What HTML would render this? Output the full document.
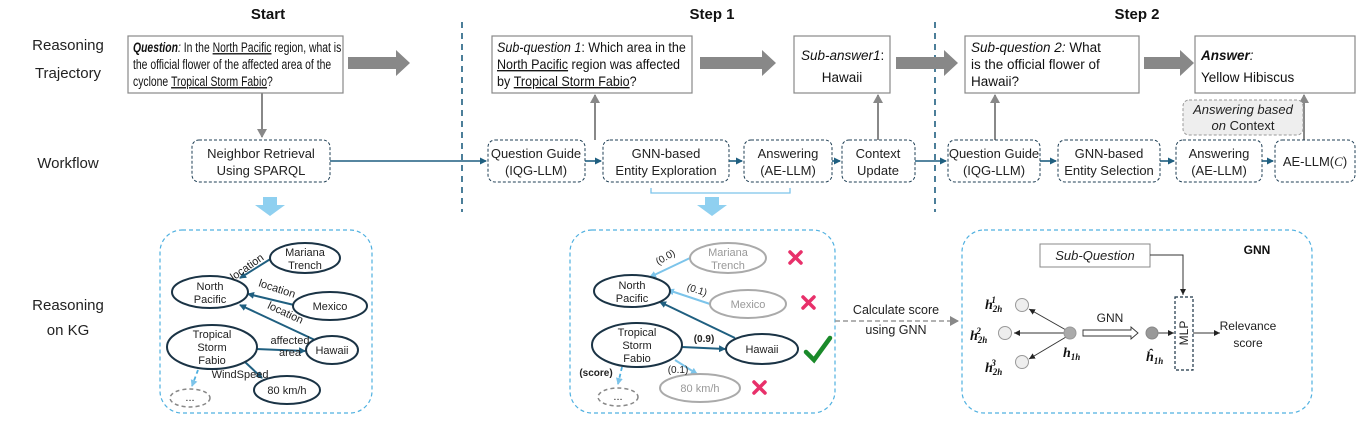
<!DOCTYPE html>
<html><head><meta charset="utf-8"><style>
body{margin:0;background:#fff}
svg{display:block;font-family:"Liberation Sans",Arial,sans-serif}
</style></head><body>
<svg width="1365" height="448" viewBox="0 0 1365 448" xmlns="http://www.w3.org/2000/svg">
<defs>
<marker id="ab" markerWidth="8" markerHeight="8" refX="6" refY="4" orient="auto" markerUnits="userSpaceOnUse"><path d="M0,0.5 L7,4 L0,7.5z" fill="#1f5f80"/></marker>
<marker id="al" markerWidth="8" markerHeight="8" refX="6" refY="4" orient="auto" markerUnits="userSpaceOnUse"><path d="M0,0.5 L7,4 L0,7.5z" fill="#7cc4ea"/></marker>
<marker id="ag" markerWidth="10" markerHeight="10" refX="8" refY="5" orient="auto" markerUnits="userSpaceOnUse"><path d="M0,0 L9,5 L0,10z" fill="#888"/></marker>
<marker id="ak" markerWidth="7" markerHeight="7" refX="6" refY="3.5" orient="auto" markerUnits="userSpaceOnUse"><path d="M0,0.5 L6,3.5 L0,6.5z" fill="#222"/></marker>
</defs>
<g font-weight="bold" font-size="15" text-anchor="middle" fill="#111">
<text x="268" y="19">Start</text><text x="712" y="19">Step 1</text><text x="1137" y="19">Step 2</text></g>
<g font-size="15" fill="#222" text-anchor="middle">
<text x="68" y="50">Reasoning</text><text x="68" y="78">Trajectory</text>
<text x="68" y="168">Workflow</text>
<text x="68" y="310">Reasoning</text><text x="68" y="335">on KG</text></g>
<g stroke="#1f5f80" stroke-width="1.6" stroke-dasharray="6,5"><line x1="462" y1="22" x2="462" y2="212"/><line x1="935" y1="22" x2="935" y2="212"/></g>
<g fill="#fff" stroke="#888" stroke-width="1.2">
<rect x="128" y="36" width="215" height="57"/><rect x="492" y="36" width="200" height="57"/>
<rect x="794" y="36" width="96" height="57"/><rect x="965" y="36" width="174" height="57"/>
<rect x="1195" y="36" width="160" height="57"/></g>
<g font-size="13.5" fill="#111" transform="translate(133,0) scale(0.77,1)">
<text x="0" y="52"><tspan font-weight="bold" font-style="italic">Question</tspan><tspan font-style="italic">:</tspan> In the <tspan text-decoration="underline">North Pacific</tspan> region, what is</text>
<text x="0" y="69">the official flower of the affected area of the</text>
<text x="0" y="86">cyclone <tspan text-decoration="underline">Tropical Storm Fabio</tspan>?</text></g>
<g font-size="13.5" fill="#111" transform="translate(497,0) scale(0.93,1)">
<text x="0" y="52"><tspan font-style="italic">Sub-question 1</tspan>: Which area in the</text>
<text x="0" y="69"><tspan text-decoration="underline">North Pacific</tspan> region was affected</text>
<text x="0" y="86">by <tspan text-decoration="underline">Tropical Storm Fabio</tspan>?</text></g>
<g font-size="13.5" fill="#111">
<text x="801" y="60"><tspan font-style="italic">Sub-answer1</tspan>:</text>
<text x="842" y="82" text-anchor="middle">Hawaii</text>
<text x="971" y="52"><tspan font-style="italic">Sub-question 2:</tspan> What</text>
<text x="971" y="69">is the official flower of</text>
<text x="971" y="86">Hawaii?</text>
<text x="1201" y="60"><tspan font-weight="bold" font-style="italic">Answer</tspan><tspan font-style="italic">:</tspan></text>
<text x="1201" y="82">Yellow Hibiscus</text></g>
<g fill="#888">
<path d="M348,57 h48 v-7 l14,13 l-14,13 v-7 h-48z"/>
<path d="M700,57 h62 v-7 l14,13 l-14,13 v-7 h-62z"/>
<path d="M896,57 h48 v-7 l14,13 l-14,13 v-7 h-48z"/>
<path d="M1144,57 h36 v-7 l14,13 l-14,13 v-7 h-36z"/></g>
<g stroke="#888" stroke-width="2" marker-end="url(#ag)">
<line x1="262" y1="93" x2="262" y2="137"/><line x1="595" y1="140" x2="595" y2="95"/>
<line x1="878" y1="140" x2="878" y2="95"/><line x1="995" y1="140" x2="995" y2="95"/>
<line x1="1304" y1="140" x2="1304" y2="95"/></g>
<rect x="1183" y="100" width="120" height="35" rx="6" fill="#eee" stroke="#999" stroke-dasharray="3,2"/>
<text x="1243" y="114" font-size="13" text-anchor="middle" fill="#222" font-style="italic">Answering based</text>
<text x="1243" y="130" font-size="13" text-anchor="middle" fill="#222"><tspan font-style="italic">on</tspan> Context</text>
<g fill="#fff" stroke="#1f3f55" stroke-width="1" stroke-dasharray="3,2">
<rect x="192" y="140" width="138" height="42" rx="7"/>
<rect x="488" y="140" width="97" height="42" rx="7"/>
<rect x="603" y="140" width="126" height="42" rx="7"/>
<rect x="744" y="140" width="88" height="42" rx="7"/>
<rect x="842" y="140" width="73" height="42" rx="7"/>
<rect x="948" y="140" width="92" height="42" rx="7"/>
<rect x="1058" y="140" width="102" height="42" rx="7"/>
<rect x="1176" y="140" width="86" height="42" rx="7"/>
<rect x="1275" y="140" width="80" height="42" rx="7"/></g>
<g font-size="13" fill="#222" text-anchor="middle">
<text x="261" y="158">Neighbor Retrieval</text><text x="261" y="175">Using SPARQL</text>
<text x="536" y="158">Question Guide</text><text x="536" y="175">(IQG-LLM)</text>
<text x="666" y="158">GNN-based</text><text x="666" y="175">Entity Exploration</text>
<text x="788" y="158">Answering</text><text x="788" y="175">(AE-LLM)</text>
<text x="878" y="158">Context</text><text x="878" y="175">Update</text>
<text x="994" y="158">Question Guide</text><text x="994" y="175">(IQG-LLM)</text>
<text x="1109" y="158">GNN-based</text><text x="1109" y="175">Entity Selection</text>
<text x="1219" y="158">Answering</text><text x="1219" y="175">(AE-LLM)</text>
<text x="1315" y="166">AE-LLM(<tspan font-style="italic" font-family="Liberation Serif">C</tspan>)</text></g>
<g stroke="#1f5f80" stroke-width="1.6" marker-end="url(#ab)">
<line x1="330" y1="161" x2="486" y2="161"/><line x1="585" y1="161" x2="601" y2="161"/>
<line x1="729" y1="161" x2="742" y2="161"/><line x1="832" y1="161" x2="840" y2="161"/>
<line x1="915" y1="161" x2="946" y2="161"/><line x1="1040" y1="161" x2="1056" y2="161"/>
<line x1="1160" y1="161" x2="1174" y2="161"/><line x1="1262" y1="161" x2="1273" y2="161"/></g>
<path d="M651,188 v5 h139 v-5" fill="none" stroke="#7cc4ea" stroke-width="1.3"/>
<g fill="#8fd0f0"><path d="M263,197 h14 v8 h8 l-15,11 l-15,-11 h8z"/><path d="M705,197 h14 v8 h8 l-15,11 l-15,-11 h8z"/></g>
<g fill="none" stroke="#4fb0e0" stroke-width="1.2" stroke-dasharray="4,3">
<rect x="160" y="230" width="212" height="183" rx="22"/><rect x="570" y="230" width="265" height="183" rx="22"/><rect x="962" y="230" width="350" height="183" rx="22"/></g>
<!-- KG1 -->
<g stroke="#1f5f80" stroke-width="2" fill="none" marker-end="url(#ab)">
<line x1="272" y1="258" x2="240" y2="278"/><line x1="294" y1="305" x2="248" y2="294"/>
<line x1="317" y1="341" x2="240" y2="305"/><line x1="256" y1="349" x2="305" y2="351"/>
<line x1="245" y1="362" x2="262" y2="378"/></g>
<line x1="198" y1="370" x2="192" y2="386" stroke="#4fb0e0" stroke-width="1.8" stroke-dasharray="4,3" marker-end="url(#al)"/>
<g fill="#fff" stroke="#1a3345" stroke-width="2">
<ellipse cx="305" cy="258" rx="35" ry="15"/><ellipse cx="210" cy="292" rx="38" ry="16"/>
<ellipse cx="330" cy="306" rx="37" ry="14"/><ellipse cx="212" cy="347" rx="45" ry="22"/>
<ellipse cx="332" cy="350" rx="26" ry="14"/><ellipse cx="287" cy="390" rx="33" ry="14"/></g>
<ellipse cx="190" cy="398" rx="20" ry="9" fill="#fff" stroke="#888" stroke-width="1.5" stroke-dasharray="4,3"/>
<g font-size="11" fill="#222" text-anchor="middle">
<text x="305" y="256">Mariana</text><text x="305" y="269">Trench</text>
<text x="210" y="290">North</text><text x="210" y="303">Pacific</text>
<text x="330" y="310">Mexico</text>
<text x="212" y="338">Tropical</text><text x="212" y="351">Storm</text><text x="212" y="364">Fabio</text>
<text x="332" y="354">Hawaii</text><text x="287" y="394">80 km/h</text><text x="190" y="401">...</text>
<text x="249" y="270" transform="rotate(-35 249 270)">location</text>
<text x="276" y="292" transform="rotate(18 276 292)">location</text>
<text x="284" y="316" transform="rotate(25 284 316)">location</text>
<text x="290" y="344">affected</text><text x="290" y="356">area</text>
<text x="240" y="378">WindSpeed</text></g>
<!-- KG2 -->
<g stroke="#7cc4ea" stroke-width="2" marker-end="url(#al)">
<line x1="690" y1="258" x2="650" y2="277"/><line x1="710" y1="304" x2="668" y2="290"/>
<line x1="675" y1="360" x2="697" y2="374"/></g>
<g stroke="#1f5f80" stroke-width="2" marker-end="url(#ab)">
<line x1="735" y1="338" x2="660" y2="302"/><line x1="682" y1="347" x2="725" y2="349"/></g>
<line x1="622" y1="367" x2="618" y2="384" stroke="#4fb0e0" stroke-width="1.8" stroke-dasharray="4,3" marker-end="url(#al)"/>
<g fill="#fff" stroke="#aaa" stroke-width="2">
<ellipse cx="728" cy="258" rx="38" ry="15"/><ellipse cx="748" cy="304" rx="38" ry="14"/><ellipse cx="700" cy="388" rx="40" ry="14"/></g>
<g fill="#fff" stroke="#1a3345" stroke-width="2">
<ellipse cx="632" cy="291" rx="38" ry="16"/><ellipse cx="637" cy="345" rx="45" ry="22"/><ellipse cx="762" cy="349" rx="36" ry="15"/></g>
<ellipse cx="618" cy="397" rx="20" ry="9" fill="#fff" stroke="#888" stroke-width="1.5" stroke-dasharray="4,3"/>
<g font-size="11" text-anchor="middle">
<g fill="#999"><text x="728" y="256">Mariana</text><text x="728" y="269">Trench</text><text x="748" y="308">Mexico</text><text x="700" y="392">80 km/h</text></g>
<g fill="#222"><text x="632" y="289">North</text><text x="632" y="302">Pacific</text>
<text x="637" y="336">Tropical</text><text x="637" y="349">Storm</text><text x="637" y="362">Fabio</text>
<text x="762" y="353">Hawaii</text><text x="618" y="400">...</text>
<text x="667" y="260" font-size="10" transform="rotate(-30 667 260)">(0.0)</text>
<text x="696" y="293" font-size="10" transform="rotate(18 696 293)">(0.1)</text>
<text x="704" y="342" font-size="10" font-weight="bold">(0.9)</text>
<text x="678" y="373" font-size="10">(0.1)</text>
<text x="596" y="376" font-size="10" font-weight="bold">(score)</text></g></g>
<g stroke="#e8306a" stroke-width="3.5" stroke-linecap="round">
<path d="M790,252 l11,11 M801,252 l-11,11"/><path d="M803,297 l11,11 M814,297 l-11,11"/><path d="M754,382 l11,11 M765,382 l-11,11"/></g>
<path d="M806,352 l8,8 l16,-22" fill="none" stroke="#1a8a2a" stroke-width="4.5" stroke-linecap="round"/>
<line x1="835" y1="321" x2="958" y2="321" stroke="#999" stroke-width="1.6" stroke-dasharray="5,3" marker-end="url(#ag)"/>
<text x="896" y="314" font-size="12.5" fill="#222" text-anchor="middle">Calculate score</text>
<text x="896" y="334" font-size="12.5" fill="#222" text-anchor="middle">using GNN</text>
<!-- GNN -->
<rect x="1040" y="244" width="110" height="23" fill="#fff" stroke="#888"/>
<text x="1095" y="260" font-size="13" font-style="italic" text-anchor="middle" fill="#222">Sub-Question</text>
<text x="1257" y="254" font-size="12" font-weight="bold" text-anchor="middle" fill="#111">GNN</text>
<polyline points="1150,255 1183,255 1183,295" fill="none" stroke="#333" stroke-width="1" marker-end="url(#ak)"/>
<g stroke="#333" stroke-width="1" marker-end="url(#ak)">
<line x1="1066" y1="330" x2="1029" y2="309"/><line x1="1064" y1="333" x2="1014" y2="333"/><line x1="1066" y1="337" x2="1029" y2="359"/>
<line x1="1158" y1="333" x2="1174" y2="333"/><line x1="1193" y1="333" x2="1220" y2="333"/></g>
<g fill="#eee" stroke="#999"><circle cx="1022" cy="305" r="6.5"/><circle cx="1005" cy="333" r="6.5"/><circle cx="1022" cy="362" r="6.5"/></g>
<circle cx="1070" cy="333" r="6" fill="#aaa" stroke="#999"/><circle cx="1152" cy="333" r="6" fill="#999" stroke="#888"/>
<path d="M1083,330 h48 v-3 l7,6 l-7,6 v-3 h-48z" fill="#fff" stroke="#333" stroke-width="0.9"/>
<text x="1110" y="322" font-size="12" text-anchor="middle" fill="#222">GNN</text>
<rect x="1175" y="297" width="18" height="73" fill="#fff" stroke="#1a3345" stroke-dasharray="3,2" stroke-width="1.2"/>
<text x="1188" y="333" font-size="12" text-anchor="middle" fill="#222" transform="rotate(-90 1188 333)">MLP</text>
<text x="1248" y="330" font-size="12" text-anchor="middle" fill="#222">Relevance</text>
<text x="1248" y="347" font-size="12" text-anchor="middle" fill="#222">score</text>
<g font-family="Liberation Serif,serif" font-weight="bold" font-style="italic" fill="#111" font-size="14">
<text x="985" y="309">h<tspan font-size="9" dy="3">2h</tspan><tspan font-size="9" dx="-11" dy="-9">1</tspan></text>
<text x="970" y="340">h<tspan font-size="9" dy="3">2h</tspan><tspan font-size="9" dx="-11" dy="-9">2</tspan></text>
<text x="985" y="372">h<tspan font-size="9" dy="3">2h</tspan><tspan font-size="9" dx="-11" dy="-9">3</tspan></text>
<text x="1063" y="357">h<tspan font-size="9" dy="3">1h</tspan></text>
<text x="1146" y="361">ĥ<tspan font-size="9" dy="3">1h</tspan></text></g>
</svg>
</body></html>
